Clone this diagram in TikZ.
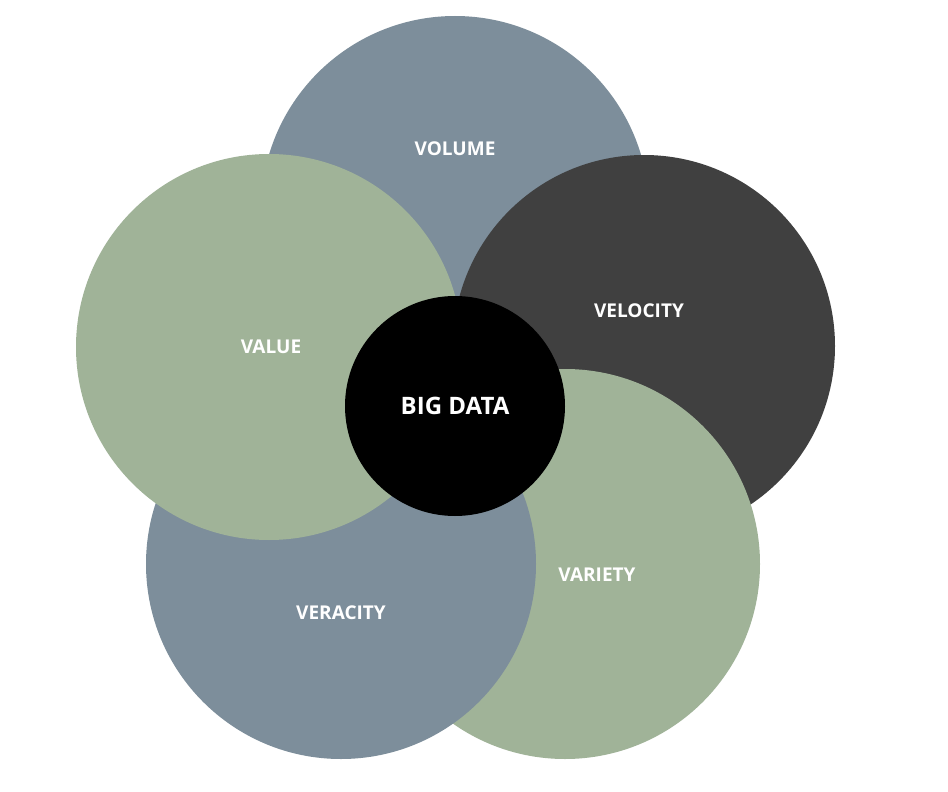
\documentclass[tikz,border=0pt]{standalone}
\usepackage{fontspec}
\setmainfont{Open Sans}
\definecolor{bgray}{HTML}{7D8E9B}
\definecolor{sgreen}{HTML}{A0B398}
\definecolor{dgray}{HTML}{404040}
\begin{document}
\begin{tikzpicture}[x=1pt,y=-1pt,
  lbl/.style={text=white,font=\bfseries\fontsize{19}{22}\selectfont}]
\useasboundingbox (0,0) rectangle (948,792);
\fill[white] (0,0) rectangle (948,792);
\fill[bgray] (455,210) circle[radius=194] coordinate (vol);
\fill[dgray] (644,346) circle[radius=191];
\fill[sgreen] (565,564) circle[radius=195];
\fill[bgray] (341,564) circle[radius=195];
\fill[sgreen] (269,347) circle[radius=193];
\fill[black] (455,406) circle[radius=110];
\node[lbl] (volume) at (455,149) {VOLUME};
\node[lbl] (velocity) at (639,311) {VELOCITY};
\node[lbl] (variety) at (597,575) {VARIETY};
\node[lbl] (veracity) at (341,613) {VERACITY};
\node[lbl] (value) at (271,347) {VALUE};
\node[text=white,font=\bfseries\fontsize{24}{28}\selectfont] (big) at (455,406) {BIG DATA};
\end{tikzpicture}
\end{document}
